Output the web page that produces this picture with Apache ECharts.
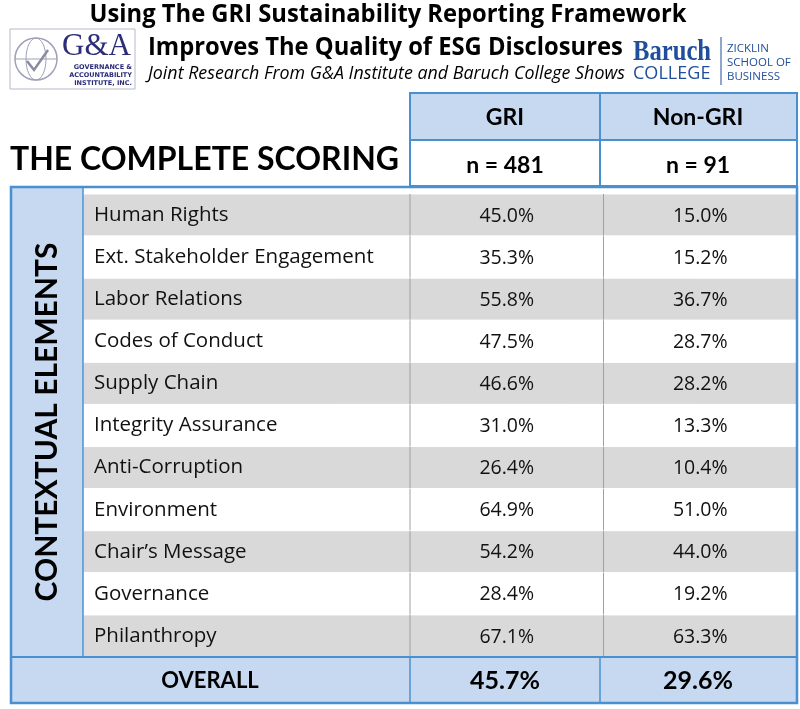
<!DOCTYPE html>
<html>
<head>
<meta charset="utf-8">
<script src="https://cdn.jsdelivr.net/npm/echarts@6/dist/echarts.min.js"></script>
<style>html,body{margin:0;padding:0;background:#fff}#main{width:800px;height:709px}</style>
</head>
<body>
<div id="main"></div>
<script>
var categories = ['Human Rights', 'Ext. Stakeholder Engagement', 'Labor Relations', 'Codes of Conduct',
  'Supply Chain', 'Integrity Assurance', 'Anti-Corruption', 'Environment', 'Chair\u2019s Message',
  'Governance', 'Philanthropy'];
var columns = ['GRI', 'Non-GRI'];
var counts = ['n = 481', 'n = 91'];
var griValues = [45.0, 35.3, 55.8, 47.5, 46.6, 31.0, 26.4, 64.9, 54.2, 28.4, 67.1];
var nonGriValues = [15.0, 15.2, 36.7, 28.7, 28.2, 13.3, 10.4, 51.0, 44.0, 19.2, 63.3];
var overall = [45.7, 29.6];

var BLUE = '#4a90d0', LIGHT = '#c6d9f0', GREY = '#d9d9d9';
var FONT = 'Lato, "Open Sans", sans-serif';
var BODY = '"Open Sans", sans-serif';

var chart = echarts.init(document.getElementById('main'));

var rows = categories.map(function (c, i) { return [i, griValues[i], nonGriValues[i]]; });

function renderRow(params, api) {
  var i = api.value(0);
  var c0 = api.coord(['GRI', i]);
  var c1 = api.coord(['Non-GRI', i]);
  var size = api.size(['GRI', 1]);
  var h = size[1], w = size[0];
  var top = c0[1] - h / 2;
  var right = c1[0] + w / 2;
  var mid = c0[0] + w / 2;
  var left0 = c0[0] - w / 2;
  var txt = { fontFamily: BODY, fontSize: 19.5, fill: '#111', align: 'center', verticalAlign: 'middle' };
  return {
    type: 'group',
    children: [
      { type: 'rect', shape: { x: 83, y: top, width: right - 83, height: h },
        style: { fill: i % 2 === 0 ? GREY : '#fff', stroke: '#fff', lineWidth: 1 } },
      { type: 'line', shape: { x1: left0, y1: top, x2: left0, y2: top + h }, style: { stroke: '#a0a0a0', lineWidth: 1 } },
      { type: 'line', shape: { x1: mid, y1: top, x2: mid, y2: top + h }, style: { stroke: '#a0a0a0', lineWidth: 1 } },
      { type: 'text', x: c0[0], y: c0[1] + 1, style: Object.assign({ text: api.value(1).toFixed(1) + '%' }, txt) },
      { type: 'text', x: c1[0], y: c1[1] + 1, style: Object.assign({ text: api.value(2).toFixed(1) + '%' }, txt) }
    ]
  };
}

var option = {
  animation: false,
  grid: { left: 410, right: 3, top: 194, bottom: 52 },
  xAxis: { type: 'category', data: columns, show: false },
  yAxis: {
    type: 'category', data: categories, inverse: true,
    axisLine: { show: false }, axisTick: { show: false },
    axisLabel: { align: 'left', margin: 316, fontFamily: BODY, fontSize: 20.5, color: '#111' },
    z: 10
  },
  series: [{ type: 'custom', renderItem: renderRow, data: rows, clip: false }],
  graphic: [
    // titles
    { type: 'text', x: 388, y: 2, scaleX: 0.95, style: { text: 'Using The GRI Sustainability Reporting Framework',
        font: 'bold 25px ' + BODY, fill: '#000', align: 'center' } },
    { type: 'text', x: 148, y: 35, scaleX: 0.95, style: { text: 'Improves The Quality of ESG Disclosures',
        font: 'bold 25px ' + BODY, fill: '#000' } },
    { type: 'text', x: 148, y: 65, scaleX: 1.02, style: { text: 'Joint Research From G&A Institute and Baruch College Shows',
        font: 'italic 17.5px ' + BODY, fill: '#000' } },
    // G&A logo
    { type: 'rect', shape: { x: 10, y: 29, width: 125, height: 60 }, style: { fill: '#fff', stroke: '#b8b8c8', lineWidth: 1 } },
    { type: 'circle', shape: { cx: 36, cy: 59, r: 21 }, style: { fill: 'none', stroke: '#a0a0b8', lineWidth: 1.5 } },
    { type: 'ellipse', shape: { cx: 36, cy: 59, rx: 10, ry: 21 }, style: { fill: 'none', stroke: '#a0a0b8', lineWidth: 1 } },
    { type: 'line', shape: { x1: 15, y1: 59, x2: 57, y2: 59 }, style: { stroke: '#a0a0b8', lineWidth: 1 } },
    { type: 'polyline', shape: { points: [[27, 61], [34, 70], [48, 50]] }, style: { stroke: '#8a8aa0', lineWidth: 2.5, fill: 'none' } },
    { type: 'text', x: 62, y: 31, style: { text: 'G&A', font: '31px "Liberation Serif", serif', fill: '#2b2d7a' } },
    { type: 'text', x: 132, y: 63, style: { text: 'GOVERNANCE &\nACCOUNTABILITY\nINSTITUTE, INC.', align: 'right',
        font: 'bold 6.5px "DejaVu Sans"', lineHeight: 8, fill: '#2b2d7a' } },
    // Baruch logo
    { type: 'text', x: 633, y: 38, scaleX: 0.85, style: { text: 'Baruch', font: 'bold 29px "Liberation Serif", serif', fill: '#1f4e9a' } },
    { type: 'text', x: 633, y: 64, scaleX: 0.95, style: { text: 'COLLEGE', font: '19px "Open Sans"', fill: '#1f4e9a' } },
    { type: 'line', shape: { x1: 721, y1: 37, x2: 721, y2: 85 }, style: { stroke: '#1f4e9a', lineWidth: 1 } },
    { type: 'text', x: 727, y: 42, style: { text: 'ZICKLIN\nSCHOOL OF\nBUSINESS', font: '11.5px "Open Sans"', lineHeight: 14, fill: '#1f4e9a' } },
    // heading
    { type: 'text', x: 10, y: 144, style: { text: 'THE COMPLETE SCORING', font: 'bold 32px ' + FONT, fill: '#000' } },
    // header cells
    { type: 'rect', shape: { x: 410, y: 93, width: 387, height: 47 }, style: { fill: LIGHT } },
    { type: 'rect', shape: { x: 410, y: 93, width: 387, height: 93 }, style: { fill: 'none', stroke: BLUE, lineWidth: 2 } },
    { type: 'line', shape: { x1: 410, y1: 140, x2: 797, y2: 140 }, style: { stroke: BLUE, lineWidth: 2 } },
    { type: 'line', shape: { x1: 600, y1: 93, x2: 600, y2: 186 }, style: { stroke: BLUE, lineWidth: 2 } },
    { type: 'text', x: 505, y: 118, style: { text: columns[0], font: 'bold 23px ' + FONT, align: 'center', verticalAlign: 'middle', fill: '#000' } },
    { type: 'text', x: 698, y: 118, style: { text: columns[1], font: 'bold 23px ' + FONT, align: 'center', verticalAlign: 'middle', fill: '#000' } },
    { type: 'text', x: 505, y: 166, style: { text: counts[0], font: 'bold 23px ' + FONT, align: 'center', verticalAlign: 'middle', fill: '#000' } },
    { type: 'text', x: 698, y: 166, style: { text: counts[1], font: 'bold 23px ' + FONT, align: 'center', verticalAlign: 'middle', fill: '#000' } },
    // left side column
    { type: 'rect', shape: { x: 11, y: 187, width: 72, height: 470 }, style: { fill: LIGHT }, z: 5 },
    { type: 'text', x: 47, y: 422, rotation: Math.PI / 2, style: { text: 'CONTEXTUAL ELEMENTS', font: 'bold 30px ' + FONT,
        align: 'center', verticalAlign: 'middle', fill: '#000' }, z: 6 },
    // overall row
    { type: 'rect', shape: { x: 11, y: 657, width: 786, height: 46 }, style: { fill: LIGHT }, z: 5 },
    { type: 'text', x: 210, y: 681, style: { text: 'OVERALL', font: 'bold 22px ' + FONT, align: 'center', verticalAlign: 'middle', fill: '#000' }, z: 6 },
    { type: 'text', x: 505, y: 681, style: { text: overall[0].toFixed(1) + '%', font: 'bold 25px ' + FONT, align: 'center', verticalAlign: 'middle', fill: '#000' }, z: 6 },
    { type: 'text', x: 698, y: 681, style: { text: overall[1].toFixed(1) + '%', font: 'bold 25px ' + FONT, align: 'center', verticalAlign: 'middle', fill: '#000' }, z: 6 },
    // borders
    { type: 'line', shape: { x1: 11, y1: 657, x2: 797, y2: 657 }, style: { stroke: BLUE, lineWidth: 2 }, z: 7 },
    { type: 'line', shape: { x1: 83, y1: 187, x2: 83, y2: 657 }, style: { stroke: BLUE, lineWidth: 1.5 }, z: 7 },
    { type: 'line', shape: { x1: 410, y1: 657, x2: 410, y2: 703 }, style: { stroke: BLUE, lineWidth: 1.5 }, z: 7 },
    { type: 'line', shape: { x1: 600, y1: 657, x2: 600, y2: 703 }, style: { stroke: BLUE, lineWidth: 1.5 }, z: 7 },
    { type: 'rect', shape: { x: 11, y: 187, width: 786, height: 516 }, style: { fill: 'none', stroke: BLUE, lineWidth: 2.5 }, z: 7 }
  ]
};
chart.setOption(option);
</script>
</body>
</html>
